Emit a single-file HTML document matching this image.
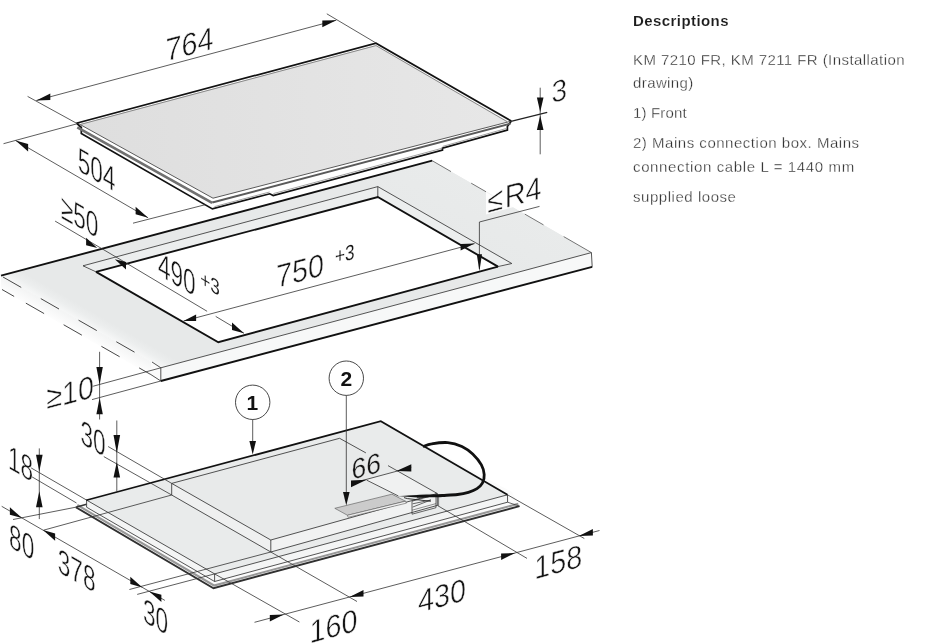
<!DOCTYPE html>
<html lang="en"><head><meta charset="utf-8"><title>Installation drawing</title>
<style>
html,body{margin:0;padding:0;background:#fff;}
body{width:925px;height:643px;overflow:hidden;position:relative;font-family:"Liberation Sans",sans-serif;}
svg{position:absolute;left:0;top:0;will-change:transform;}
svg text{font-family:"Liberation Sans",sans-serif;}
.desc{will-change:transform;position:absolute;left:633.4px;top:0;width:291px;color:#2e2e2e;font-size:15px;line-height:17px;-webkit-text-stroke:0.3px #fff;}
.desc div{position:absolute;left:0;white-space:nowrap;}
.desc .h{font-weight:bold;color:#1c1c1c;-webkit-text-stroke:0.12px #fff;}
</style></head><body>
<svg width="925" height="643" viewBox="0 0 925 643">
<defs>
<linearGradient id="gGlass" gradientUnits="userSpaceOnUse" x1="80" y1="130" x2="500" y2="110">
<stop offset="0" stop-color="#dedede"/><stop offset="1" stop-color="#e7e7e7"/></linearGradient>
<linearGradient id="gWorkL" gradientUnits="userSpaceOnUse" x1="40" y1="298" x2="47" y2="285.8">
<stop offset="0" stop-color="#f6f7f7"/><stop offset="0.5" stop-color="#eceeee"/><stop offset="1" stop-color="#e7e9e9"/></linearGradient>
<linearGradient id="gWorkR" gradientUnits="userSpaceOnUse" x1="470" y1="260" x2="540" y2="138">
<stop offset="0" stop-color="#e7e9e9"/><stop offset="0.8" stop-color="#eaecec"/><stop offset="1" stop-color="#f0f1f1"/></linearGradient>
<linearGradient id="gWorkS" gradientUnits="userSpaceOnUse" x1="40" y1="298" x2="33" y2="310.2">
<stop offset="0" stop-color="#f3f4f4"/><stop offset="1" stop-color="#ffffff"/></linearGradient>
</defs>
<polygon points="77.0,123.6 81.3,127.5 81.3,133.6 212.4,208.9 269.8,193.8 273.2,195.6 442.5,150.0 442.5,148.2 507.4,130.0 507.4,126.6 511.0,121.4 213.0,198.2" fill="#fff" stroke="none" stroke-width="1" />
<polyline points="77.0,123.6 81.3,127.5 81.3,133.6 212.4,208.9 269.8,193.8 273.2,195.6 442.5,150.0 442.5,148.2 507.4,130.0 507.4,126.6 511.0,121.4" fill="none" stroke="#111" stroke-width="1.7" stroke-linejoin="miter"/>
<polyline points="77.3,127.4 212.2,202.9" fill="none" stroke="#707070" stroke-width="2.8" />
<polyline points="212.3,202.5 510.6,123.6" fill="none" stroke="#5a5a5a" stroke-width="1.9" />
<polyline points="214.5,206.6 269.6,192.0" fill="none" stroke="#8a8a8a" stroke-width="0.8" />
<polyline points="273.4,193.6 442.3,148.2" fill="none" stroke="#8a8a8a" stroke-width="0.8" />
<polyline points="442.7,146.4 507.0,128.3" fill="none" stroke="#8a8a8a" stroke-width="0.8" />
<polygon points="77.0,122.8 376.0,43.2 511.0,121.2 213.0,198.2" fill="url(#gGlass)" stroke="none" stroke-width="1" />
<polyline points="79.0,123.9 376.0,44.5 509.0,121.4" fill="none" stroke="#fff" stroke-width="0.9" />
<polyline points="80.6,124.4 376.0,45.6 507.0,121.6" fill="none" stroke="#707070" stroke-width="0.8" />
<polyline points="77.0,122.8 213.0,198.2 511.0,121.2" fill="none" stroke="#5a5a5a" stroke-width="1.0" />
<polyline points="76.3,123.2 376.0,43.2 511.3,121.1" fill="none" stroke="#111" stroke-width="1.7" stroke-linejoin="miter"/>
<path fill-rule="evenodd" fill="#e7e9e9" d="M1.0,275.7 L432.2,160.7 L591.4,252.6 L160.8,367.8 Z M83.0,265.8 L377.8,186.6 L511.8,263.5 L218.3,342.2 Z"/>
<polygon points="1.0,275.7 20.4,270.5 180.5,362.1 160.8,367.8" fill="url(#gWorkL)" stroke="none" stroke-width="1" />
<polygon points="1.0,275.7 160.8,367.8 160.8,381.0 1.0,289.4" fill="url(#gWorkS)" stroke="none" stroke-width="1" />
<polygon points="432.2,160.7 591.4,252.6 520.0,271.6 360.8,179.7" fill="url(#gWorkR)" stroke="none" stroke-width="1" />
<polygon points="83.0,265.8 377.8,186.6 511.8,263.5 218.3,342.2" fill="#fff" stroke="none" stroke-width="1" />
<polygon points="83.0,265.8 377.8,186.6 511.8,263.5 498.0,266.6 377.8,197.0 96.0,271.9" fill="#eceeee" stroke="none" stroke-width="1" />
<polygon points="160.8,367.8 591.4,252.6 592.2,266.8 160.8,381.0" fill="#f7f8f8" stroke="none" stroke-width="1" />
<polygon points="151.0,361.5 160.8,367.8 160.8,381.0 151.0,374.5" fill="#fbfbfb" stroke="none" stroke-width="1" />
<polyline points="1.0,275.7 432.2,160.7" fill="none" stroke="#111" stroke-width="1.9" />
<polyline points="432.2,160.7 451.0,171.6" fill="none" stroke="#555" stroke-width="0.8" />
<polyline points="471.2,183.2 492.5,195.5" fill="none" stroke="#555" stroke-width="0.8" />
<polyline points="524.8,214.1 543.5,224.9" fill="none" stroke="#555" stroke-width="0.8" />
<polyline points="563.7,236.6 591.4,252.6" fill="none" stroke="#555" stroke-width="0.8" />
<polyline points="96.0,271.9 83.0,265.8 377.8,186.6 511.8,263.5 498.0,266.6" fill="none" stroke="#2a2a2a" stroke-width="0.8" />
<polyline points="377.8,186.6 377.8,197.0" fill="none" stroke="#2a2a2a" stroke-width="0.8" />
<polyline points="96.0,271.9 377.8,197.0 498.0,266.6" fill="none" stroke="#111" stroke-width="1.9" stroke-linejoin="miter"/>
<polyline points="96.0,271.9 218.3,342.2 498.0,266.6" fill="none" stroke="#111" stroke-width="1.9" stroke-linejoin="miter"/>
<polyline points="160.8,367.8 591.4,252.6" fill="none" stroke="#2a2a2a" stroke-width="0.8" />
<polyline points="591.4,252.6 592.2,266.8" fill="none" stroke="#2a2a2a" stroke-width="0.8" />
<polyline points="160.8,381.0 592.2,266.8" fill="none" stroke="#111" stroke-width="1.9" />
<polyline points="160.8,367.8 160.8,381.0" fill="none" stroke="#2a2a2a" stroke-width="0.8" />
<polyline points="160.8,381.0 150.0,374.0" fill="none" stroke="#2a2a2a" stroke-width="0.8" />
<polyline points="160.8,367.8 152.0,362.0" fill="none" stroke="#2a2a2a" stroke-width="0.8" />
<polyline points="3.0,277.0 150.0,361.0" fill="none" stroke="#333" stroke-width="0.9" stroke-dasharray="21 22.5"/>
<polyline points="2.0,289.5 150.0,374.1" fill="none" stroke="#333" stroke-width="0.9" stroke-dasharray="14 13.5 21 22.5 21 22.5 21 22.5"/>
<polygon points="75.8,507.2 86.0,497.0 380.8,421.2 512.0,492.0 519.5,506.2 213.5,588.2" fill="#fbfbfb" stroke="none" stroke-width="1" />
<polyline points="77.3,505.0 214.0,585.5 518.3,503.8" fill="none" stroke="#989898" stroke-width="2.1" stroke-linejoin="miter"/>
<polyline points="75.8,507.2 213.5,588.2 519.5,506.2" fill="none" stroke="#303030" stroke-width="1.9" stroke-linejoin="miter"/>
<polyline points="75.8,507.2 86.6,504.3" fill="none" stroke="#353535" stroke-width="1.6" />
<polygon points="86.6,500.1 214.6,573.9 507.5,494.8 507.6,502.2 214.6,581.5 86.6,507.2" fill="#f4f5f5" stroke="none" stroke-width="1" />
<polygon points="86.6,500.1 380.8,421.2 507.5,494.8 214.6,573.9" fill="#e9ebeb" stroke="none" stroke-width="1" />
<polygon points="171.7,483.4 339.6,438.3 437.3,493.5 270.8,540.0" fill="#e8eaea" stroke="none" stroke-width="1" />
<polygon points="171.7,483.4 270.8,540.0 270.8,552.0 171.7,495.0" fill="#eff0f0" stroke="none" stroke-width="1" />
<polygon points="270.8,540.0 437.3,493.5 437.3,505.4 270.8,552.0" fill="#f1f2f2" stroke="none" stroke-width="1" />
<polyline points="86.6,500.1 214.6,573.9 507.5,494.8" fill="none" stroke="#2a2a2a" stroke-width="0.8" />
<polyline points="86.6,507.2 214.6,581.5 507.6,502.2" fill="none" stroke="#2a2a2a" stroke-width="0.8" />
<polyline points="86.6,500.1 86.6,507.2" fill="none" stroke="#2a2a2a" stroke-width="0.8" />
<polyline points="214.6,573.9 214.6,581.5" fill="none" stroke="#2a2a2a" stroke-width="0.8" />
<polyline points="507.5,494.8 507.6,502.2" fill="none" stroke="#2a2a2a" stroke-width="0.8" />
<polyline points="507.6,502.2 519.5,506.2" fill="none" stroke="#2a2a2a" stroke-width="0.7" />
<polyline points="86.2,500.3 380.8,421.2 507.5,494.8" fill="none" stroke="#111" stroke-width="1.7" stroke-linejoin="miter"/>
<polyline points="339.6,438.3 171.7,483.4 270.8,540.0 437.3,493.5" fill="none" stroke="#2a2a2a" stroke-width="0.8" />
<polyline points="171.7,483.4 171.7,495.0 270.8,552.0 437.3,505.4 437.3,493.5" fill="none" stroke="#2a2a2a" stroke-width="0.8" />
<polyline points="270.8,540.0 270.8,552.0" fill="none" stroke="#2a2a2a" stroke-width="0.8" />
<polygon points="334.8,508.3 391.9,494.2 405.5,501.2 347.5,515.3" fill="#cbcbcb" stroke="#555" stroke-width="0.6" />
<polygon points="347.5,515.3 405.5,501.2 406.3,503.2 348.0,517.3" fill="#f2f2f2" stroke="#444" stroke-width="0.5" />
<polyline points="412.0,501.2 412.0,514.2 436.0,507.7 436.0,492.8" fill="none" stroke="#2a2a2a" stroke-width="0.7" />
<polyline points="412.0,501.2 433.4,495.4" fill="none" stroke="#2a2a2a" stroke-width="0.7" />
<polyline points="438.6,496.7 438.6,505.8" fill="none" stroke="#2a2a2a" stroke-width="0.6" />
<polyline points="412.6,507.1 430.8,500.0 412.6,503.8" fill="none" stroke="#2a2a2a" stroke-width="0.7" />
<polyline points="412.0,510.2 436.0,503.6" fill="none" stroke="#2a2a2a" stroke-width="0.5" />
<path d="M423.0,446.5 C424.4,446.1 427.5,444.5 431.6,443.9 C435.7,443.2 442.8,442.2 447.8,442.6 C452.9,443.0 457.8,444.6 461.9,446.5 C466.0,448.4 469.4,451.0 472.7,454.1 C475.9,457.2 479.5,461.5 481.4,464.9 C483.3,468.3 484.0,471.6 484.2,474.6 C484.4,477.7 483.6,480.9 482.4,483.2 C481.2,485.5 479.3,487.1 477.0,488.6 C474.7,490.1 471.6,491.3 468.4,492.3 C465.2,493.3 461.9,494.0 457.6,494.5 C453.3,495.0 447.4,495.2 442.4,495.5 C437.3,495.8 431.5,495.9 427.3,496.0 C423.1,496.1 418.7,496.2 417.0,496.3" fill="none" stroke="#111" stroke-width="2.8" stroke-linecap="butt"/>
<polygon points="417.5,495.0 417.5,497.6 397.1,495.9" fill="#111" stroke="none" stroke-width="1" />
<polyline points="404.0,497.6 407.4,498.6 430.8,501.3" fill="none" stroke="#222" stroke-width="0.9" />
<polyline points="27.6,96.4 77.0,123.5" fill="none" stroke="#333" stroke-width="0.8" />
<polyline points="326.8,13.8 376.0,43.0" fill="none" stroke="#333" stroke-width="0.8" />
<polyline points="36.3,100.5 336.3,20.2" fill="none" stroke="#333" stroke-width="0.8" />
<polygon points="36.3,100.5 50.3,93.4 50.3,100.1" fill="#111" stroke="none" stroke-width="1" />
<polygon points="336.3,20.2 322.3,20.6 322.3,27.3" fill="#111" stroke="none" stroke-width="1" />
<text transform="matrix(0.900,-0.2412,0,1,165.4,61.5)" font-size="32" font-weight="normal" fill="#151515" stroke="#fff" stroke-width="0.55" >764</text>
<polyline points="3.5,143.7 77.0,123.8" fill="none" stroke="#333" stroke-width="0.8" />
<polyline points="133.0,223.2 206.0,204.5" fill="none" stroke="#333" stroke-width="0.8" />
<polyline points="15.6,140.5 148.1,217.8" fill="none" stroke="#333" stroke-width="0.8" />
<polygon points="15.6,140.5 28.1,144.1 28.1,151.5" fill="#111" stroke="none" stroke-width="1" />
<polygon points="148.1,217.8 135.6,206.8 135.6,214.2" fill="#111" stroke="none" stroke-width="1" />
<text transform="matrix(0.655,0.3766,0,1,77.7,170.5)" font-size="34.5" font-weight="normal" fill="#151515" stroke="#fff" stroke-width="0.55" >504</text>
<polyline points="511.0,121.4 547.2,112.4" fill="none" stroke="#222" stroke-width="1.3" />
<polyline points="540.2,87.7 540.2,154.3" fill="none" stroke="#333" stroke-width="0.8" />
<polygon points="540.2,111.9 536.9,97.4 543.5,97.4" fill="#111" stroke="none" stroke-width="1" />
<polygon points="540.2,115.4 543.5,129.9 536.9,129.9" fill="#111" stroke="none" stroke-width="1" />
<text transform="matrix(0.920,-0.2466,0,1,551.6,103.3)" font-size="30.5" font-weight="normal" fill="#151515" stroke="#fff" stroke-width="0.55" >3</text>
<polyline points="55.1,221.1 126.5,263.2" fill="none" stroke="#333" stroke-width="0.8" />
<polygon points="97.3,248.1 86.1,237.8 86.1,245.2" fill="#111" stroke="none" stroke-width="1" />
<polygon points="114.8,259.2 126.0,262.0 126.0,269.4" fill="#111" stroke="none" stroke-width="1" />
<polyline points="126.5,263.2 207.1,311.3" fill="none" stroke="#333" stroke-width="0.8" />
<polyline points="215.7,316.4 244.0,333.3" fill="none" stroke="#333" stroke-width="0.8" />
<polygon points="244.0,333.3 232.0,322.4 232.0,329.9" fill="#111" stroke="none" stroke-width="1" />
<text transform="matrix(0.655,0.3766,0,1,61.0,217.8)" font-size="34.5" font-weight="normal" fill="#151515" stroke="#fff" stroke-width="0.55" >≥</text>
<text transform="matrix(0.655,0.3766,0,1,73.2,224.2)" font-size="34.5" font-weight="normal" fill="#151515" stroke="#fff" stroke-width="0.55" >50</text>
<text transform="matrix(0.655,0.3766,0,1,157.9,275.0)" font-size="34.5" font-weight="normal" fill="#151515" stroke="#fff" stroke-width="0.55" >490</text>
<text transform="matrix(0.800,0.4600,0,1,200.3,285.1)" font-size="21.5" font-weight="normal" fill="#151515" stroke="#fff" stroke-width="0.12" >+3</text>
<polyline points="183.5,321.1 474.6,243.6" fill="none" stroke="#333" stroke-width="0.8" />
<polygon points="183.5,321.1 196.1,314.4 196.1,321.1" fill="#111" stroke="none" stroke-width="1" />
<polygon points="474.6,243.6 460.6,244.0 460.6,250.6" fill="#111" stroke="none" stroke-width="1" />
<text transform="matrix(0.900,-0.2412,0,1,276.0,288.1)" font-size="32" font-weight="normal" fill="#151515" stroke="#fff" stroke-width="0.55" >750</text>
<text transform="matrix(0.800,-0.2144,0,1,334.9,264.0)" font-size="21.5" font-weight="normal" fill="#151515" stroke="#fff" stroke-width="0.12" >+3</text>
<polyline points="539.5,206.4 479.4,222.0 479.4,269.0" fill="none" stroke="#333" stroke-width="0.8" />
<polygon points="479.4,271.3 476.8,254.3 482.0,254.3" fill="#111" stroke="none" stroke-width="1" />
<polygon points="486.0,214.5 543.5,199.1 543.5,172.5 486.0,188.0" fill="#fff" stroke="none" stroke-width="1" opacity="0.9"/>
<text transform="matrix(0.900,-0.2412,0,1,487.2,213.1)" font-size="32" font-weight="normal" fill="#151515" stroke="#fff" stroke-width="0.55" >≤</text>
<text transform="matrix(0.900,-0.2412,0,1,504.7,208.2)" font-size="32" font-weight="normal" fill="#151515" stroke="#fff" stroke-width="0.55" >R4</text>
<polyline points="160.8,367.8 92.5,386.4" fill="none" stroke="#333" stroke-width="0.8" />
<polyline points="160.8,381.0 92.0,399.6" fill="none" stroke="#333" stroke-width="0.8" />
<polyline points="99.6,351.8 99.6,419.5" fill="none" stroke="#333" stroke-width="0.8" />
<polygon points="99.6,384.5 96.4,367.0 102.8,367.0" fill="#111" stroke="none" stroke-width="1" />
<polygon points="99.6,397.8 102.8,414.3 96.4,414.3" fill="#111" stroke="none" stroke-width="1" />
<text transform="matrix(0.900,-0.2412,0,1,46.3,409.0)" font-size="32" font-weight="normal" fill="#151515" stroke="#fff" stroke-width="0.55" >≥</text>
<text transform="matrix(0.900,-0.2412,0,1,61.9,405.8)" font-size="32" font-weight="normal" fill="#151515" stroke="#fff" stroke-width="0.55" >10</text>
<polyline points="108.1,446.5 171.7,483.4" fill="none" stroke="#333" stroke-width="0.8" />
<polyline points="103.8,456.6 171.7,495.0" fill="none" stroke="#333" stroke-width="0.8" />
<polyline points="116.8,420.5 116.8,491.5" fill="none" stroke="#333" stroke-width="0.8" />
<polygon points="116.8,452.9 113.5,434.9 120.1,434.9" fill="#111" stroke="none" stroke-width="1" />
<polygon points="116.8,462.0 120.1,477.5 113.5,477.5" fill="#111" stroke="none" stroke-width="1" />
<text transform="matrix(0.655,0.3766,0,1,80.5,443.1)" font-size="34.5" font-weight="normal" fill="#151515" stroke="#fff" stroke-width="0.55" >30</text>
<polyline points="31.1,467.9 86.6,500.1" fill="none" stroke="#333" stroke-width="0.8" />
<polyline points="31.1,476.3 76.5,503.0" fill="none" stroke="#333" stroke-width="0.8" />
<polyline points="39.3,448.4 39.3,519.1" fill="none" stroke="#333" stroke-width="0.8" />
<polygon points="39.3,471.8 36.0,454.8 42.6,454.8" fill="#111" stroke="none" stroke-width="1" />
<polygon points="39.3,491.2 42.6,507.2 36.0,507.2" fill="#111" stroke="none" stroke-width="1" />
<text transform="matrix(0.655,0.3766,0,1,7.9,468.1)" font-size="34.5" font-weight="normal" fill="#151515" stroke="#fff" stroke-width="0.55" >18</text>
<polyline points="13.0,519.5 75.8,507.2" fill="none" stroke="#333" stroke-width="0.8" />
<polyline points="43.5,530.2 171.7,495.0" fill="none" stroke="#333" stroke-width="0.8" />
<polyline points="129.4,589.5 270.8,552.0" fill="none" stroke="#333" stroke-width="0.8" />
<polyline points="137.2,594.4 214.6,573.9" fill="none" stroke="#333" stroke-width="0.8" />
<polyline points="1.7,506.3 164.9,600.4" fill="none" stroke="#333" stroke-width="0.8" />
<polygon points="22.0,518.0 9.9,507.3 9.9,514.7" fill="#111" stroke="none" stroke-width="1" />
<polygon points="43.0,530.1 55.1,533.4 55.1,540.8" fill="#111" stroke="none" stroke-width="1" />
<polygon points="142.4,587.4 130.3,576.7 130.3,584.1" fill="#111" stroke="none" stroke-width="1" />
<polygon points="149.3,591.4 161.4,594.7 161.4,602.1" fill="#111" stroke="none" stroke-width="1" />
<text transform="matrix(0.655,0.3766,0,1,9.1,546.6)" font-size="34.5" font-weight="normal" fill="#151515" stroke="#fff" stroke-width="0.55" >80</text>
<text transform="matrix(0.655,0.3766,0,1,57.8,571.5)" font-size="34.5" font-weight="normal" fill="#151515" stroke="#fff" stroke-width="0.55" >378</text>
<text transform="matrix(0.655,0.3766,0,1,143.0,621.2)" font-size="34.5" font-weight="normal" fill="#151515" stroke="#fff" stroke-width="0.55" >30</text>
<polyline points="214.6,573.9 299.4,622.0" fill="none" stroke="#333" stroke-width="0.8" />
<polyline points="270.8,552.0 357.0,601.5" fill="none" stroke="#333" stroke-width="0.8" />
<polyline points="437.3,505.4 527.0,558.4" fill="none" stroke="#333" stroke-width="0.8" />
<polyline points="507.5,494.8 584.3,538.5" fill="none" stroke="#333" stroke-width="0.8" />
<polyline points="254.5,622.3 599.5,530.5" fill="none" stroke="#333" stroke-width="0.8" />
<polygon points="283.8,614.5 269.8,614.9 269.8,621.6" fill="#111" stroke="none" stroke-width="1" />
<polygon points="349.5,597.0 363.5,590.0 363.5,596.6" fill="#111" stroke="none" stroke-width="1" />
<polygon points="515.1,553.0 501.1,553.4 501.1,560.0" fill="#111" stroke="none" stroke-width="1" />
<polygon points="578.9,536.0 592.9,529.0 592.9,535.6" fill="#111" stroke="none" stroke-width="1" />
<text transform="matrix(0.900,-0.2412,0,1,309.4,643.5)" font-size="32" font-weight="normal" fill="#151515" stroke="#fff" stroke-width="0.55" >160</text>
<text transform="matrix(0.900,-0.2412,0,1,417.9,613.1)" font-size="32" font-weight="normal" fill="#151515" stroke="#fff" stroke-width="0.55" >430</text>
<text transform="matrix(0.900,-0.2412,0,1,534.2,579.4)" font-size="32" font-weight="normal" fill="#151515" stroke="#fff" stroke-width="0.55" >158</text>
<polygon points="366.6,480.1 396.4,470.8 433.4,492.4 398.4,496.0" fill="#f0f1f1" stroke="none" stroke-width="1" />
<polyline points="366.6,480.1 398.4,496.0" fill="none" stroke="#333" stroke-width="0.8" />
<polyline points="388.0,465.6 437.3,493.5" fill="none" stroke="#333" stroke-width="0.8" />
<polyline points="339.6,438.3 365.9,452.9" fill="none" stroke="#2a2a2a" stroke-width="0.8" />
<polyline points="351.1,483.5 411.3,467.3" fill="none" stroke="#333" stroke-width="0.8" />
<polygon points="351.0,480.5 351.0,487.2 366.6,479.7" fill="#111" stroke="none" stroke-width="1" />
<polygon points="411.3,464.3 411.3,471.4 396.4,470.9" fill="#111" stroke="none" stroke-width="1" />
<text transform="matrix(0.930,-0.2492,0,1,351.6,479.8)" font-size="28.5" font-weight="normal" fill="#151515" stroke="#e8eaea" stroke-width="0.3" >66</text>
<circle cx="252.7" cy="402.3" r="17.2" fill="#fff" stroke="#333" stroke-width="0.9"/>
<text x="246.5" y="409.7" font-size="21" font-weight="bold" fill="#111">1</text>
<polyline points="252.7,419.5 252.7,449.6" fill="none" stroke="#333" stroke-width="0.8" />
<polygon points="252.7,454.6 249.4,441.1 256.0,441.1" fill="#111" stroke="none" stroke-width="1" />
<circle cx="346.3" cy="378.2" r="17.2" fill="#fff" stroke="#333" stroke-width="0.9"/>
<text x="340.6" y="385.7" font-size="21" font-weight="bold" fill="#111">2</text>
<polyline points="346.3,395.4 346.3,500.5" fill="none" stroke="#333" stroke-width="0.8" />
<polygon points="346.3,505.5 343.0,492.0 349.6,492.0" fill="#111" stroke="none" stroke-width="1" />
</svg>
<div class="desc">
<div class="h" style="top:12.4px;letter-spacing:0.42px">Descriptions</div>
<div style="top:50.6px;letter-spacing:0.43px">KM 7210 FR, KM 7211 FR (Installation</div>
<div style="top:74.1px;letter-spacing:0.4px">drawing)</div>
<div style="top:104.3px;letter-spacing:0.16px">1) Front</div>
<div style="top:134.4px;letter-spacing:0.52px">2) Mains connection box. Mains</div>
<div style="top:157.9px;letter-spacing:0.63px">connection cable L = 1440 mm</div>
<div style="top:188px;letter-spacing:0.54px">supplied loose</div>
</div>
</body></html>
